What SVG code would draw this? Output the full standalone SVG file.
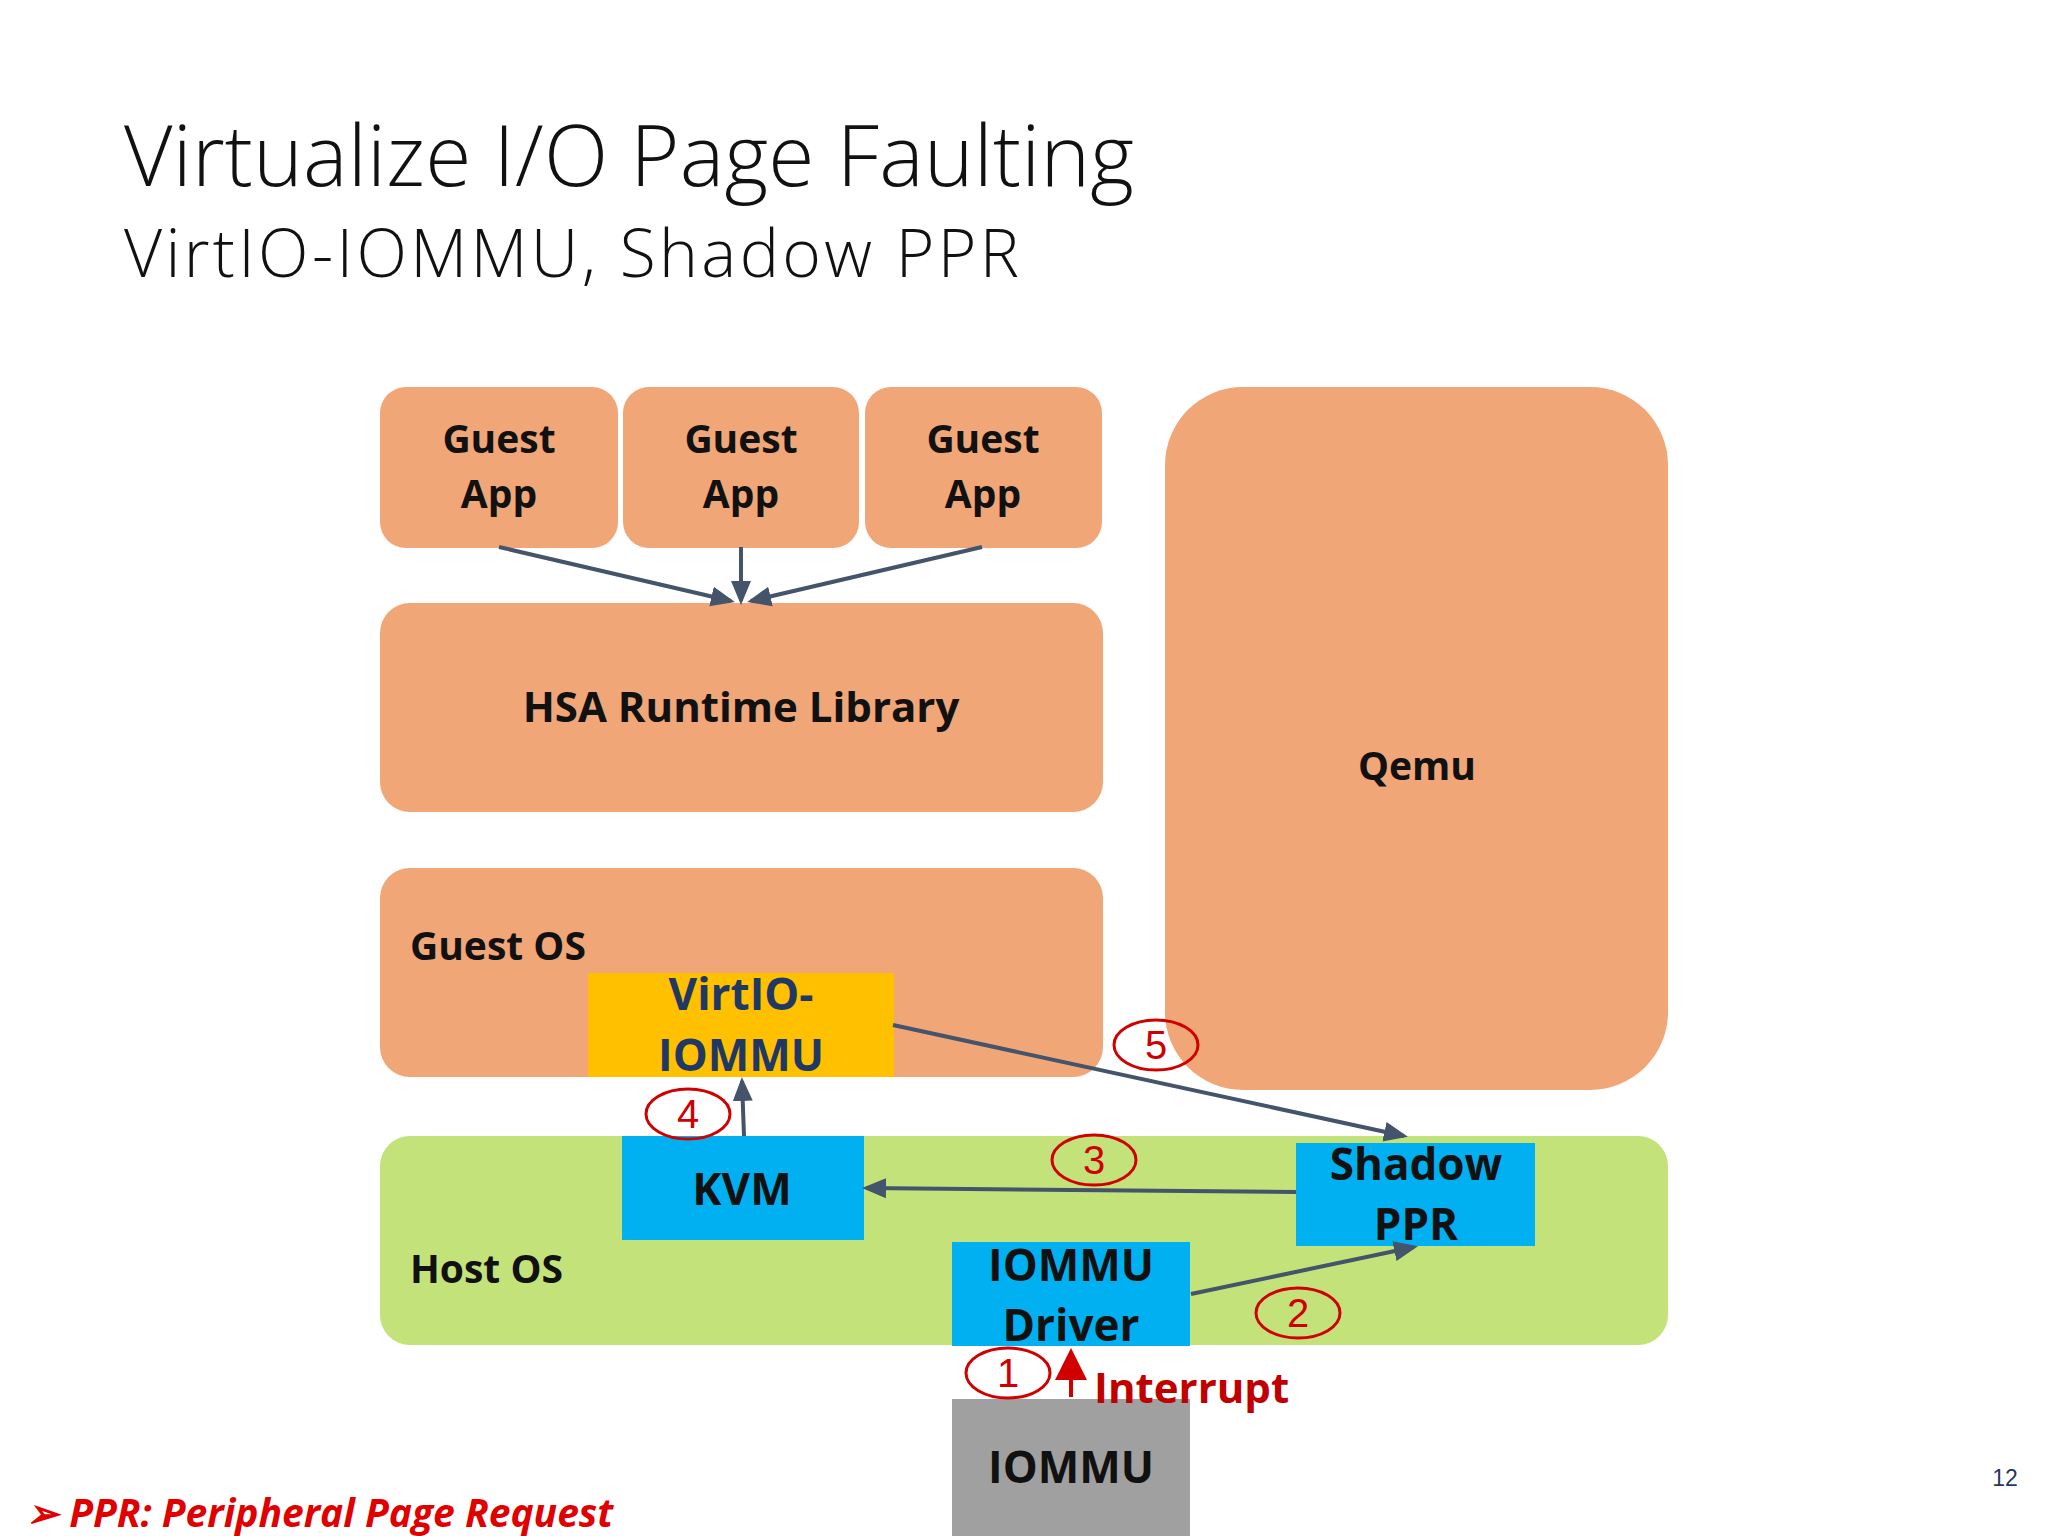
<svg xmlns="http://www.w3.org/2000/svg" width="2048" height="1536" viewBox="0 0 2048 1536">
<defs>
<style>
.o{fill:#f0a677}
.b{fill:#00b0f0}
.t{font-family:"Open Sans","Liberation Sans",sans-serif;font-weight:bold;fill:#111;text-anchor:middle}
.c{fill:none;stroke:#d00000;stroke-width:3}
.n{font-family:"Liberation Sans",sans-serif;font-size:40px;fill:#d00000;text-anchor:middle}
.e{stroke:#44546a;stroke-width:4;fill:none;marker-end:url(#a)}
</style>
<marker id="a" markerWidth="24" markerHeight="24" refX="20" refY="12" orient="auto" markerUnits="userSpaceOnUse" viewBox="0 0 24 24"><path d="M0,2L24,12L0,22z" fill="#44546a"/></marker>
<marker id="r" markerWidth="8" markerHeight="8" refX="6" refY="4" orient="auto" viewBox="0 0 8 8" markerUnits="strokeWidth"><path d="M0,0L8,4L0,8z" fill="#d00000"/></marker>
</defs>
<rect width="2048" height="1536" fill="#fff"/>
<text x="124" y="186" font-family="Open Sans,Liberation Sans,sans-serif" font-weight="300" font-size="84" textLength="1010" fill="#111">Virtualize I/O Page Faulting</text>
<text x="124" y="277" font-family="Open Sans,Liberation Sans,sans-serif" font-weight="300" font-size="66" textLength="895" fill="#111">VirtIO-IOMMU, Shadow PPR</text>
<g id="app1"><rect class="o" x="380" y="387" width="238" height="161" rx="26"/><text class="t" x="499" y="453" font-size="39">Guest</text><text class="t" x="499" y="508" font-size="39">App</text></g>
<g id="app2"><rect class="o" x="623" y="387" width="236" height="161" rx="26"/><text class="t" x="741" y="453" font-size="39">Guest</text><text class="t" x="741" y="508" font-size="39">App</text></g>
<g id="app3"><rect class="o" x="865" y="387" width="237" height="161" rx="26"/><text class="t" x="983" y="453" font-size="39">Guest</text><text class="t" x="983" y="508" font-size="39">App</text></g>
<g id="hsa"><rect class="o" x="380" y="603" width="723" height="209" rx="30"/><text class="t" x="741" y="722" font-size="42">HSA Runtime Library</text></g>
<g id="qemu"><rect class="o" x="1165" y="387" width="503" height="703" rx="78"/><text class="t" x="1417" y="780" font-size="39">Qemu</text></g>
<g id="guestos"><rect class="o" x="380" y="868" width="723" height="209" rx="30"/><text class="t" x="410" y="960" font-size="39" style="text-anchor:start">Guest OS</text></g>
<g id="hostos"><rect x="380" y="1136" width="1288" height="209" rx="30" fill="#c3e37a"/><text class="t" x="410" y="1283" font-size="39" style="text-anchor:start">Host OS</text></g>
<g id="virtio"><rect x="588" y="973" width="306" height="104" fill="#ffc000"/><text class="t" x="741" y="1010" font-size="44" style="fill:#1f3864">VirtIO-</text><text class="t" x="741" y="1071" font-size="44" style="fill:#1f3864">IOMMU</text></g>
<g id="kvm"><rect class="b" x="622" y="1136" width="242" height="104"/><text class="t" x="742" y="1205" font-size="44">KVM</text></g>
<g id="shadow"><rect class="b" x="1296" y="1143" width="239" height="103"/><text class="t" x="1416" y="1180" font-size="44">Shadow</text><text class="t" x="1416" y="1240" font-size="44">PPR</text></g>
<g id="driver"><rect class="b" x="952" y="1242" width="238" height="104"/><text class="t" x="1071" y="1281" font-size="44">IOMMU</text><text class="t" x="1071" y="1341" font-size="44">Driver</text></g>
<g id="iommu"><rect x="952" y="1399" width="238" height="137" fill="#a0a0a0"/><text class="t" x="1071" y="1483" font-size="44">IOMMU</text></g>
<g id="connectors">
<line class="e" x1="499" y1="547" x2="731" y2="601"/>
<line class="e" x1="741" y1="547" x2="741" y2="601"/>
<line class="e" x1="982" y1="547" x2="751" y2="601"/>
<line class="e" x1="893" y1="1025" x2="1404" y2="1136"/>
<line class="e" x1="1296" y1="1192" x2="866" y2="1188"/>
<line class="e" x1="744" y1="1136" x2="742" y2="1081"/>
<line class="e" x1="1191" y1="1294" x2="1414" y2="1247"/>
<line x1="1071" y1="1397" x2="1071" y2="1356" stroke="#d00000" stroke-width="4" marker-end="url(#r)"/>
</g>
<text x="1094" y="1403" font-family="Open Sans,Liberation Sans,sans-serif" font-weight="bold" font-size="42" fill="#c00000">Interrupt</text>
<g id="steps">
<ellipse class="c" cx="1008" cy="1373" rx="42" ry="25"/><text class="n" x="1008" y="1387">1</text>
<ellipse class="c" cx="1298" cy="1313" rx="42" ry="25"/><text class="n" x="1298" y="1327">2</text>
<ellipse class="c" cx="1094" cy="1160" rx="42" ry="25"/><text class="n" x="1094" y="1174">3</text>
<ellipse class="c" cx="688" cy="1114" rx="42" ry="25"/><text class="n" x="688" y="1128">4</text>
<ellipse class="c" cx="1156" cy="1045" rx="42" ry="25"/><text class="n" x="1156" y="1059">5</text>
</g>
<text x="26" y="1527" font-family="Open Sans,Liberation Sans,sans-serif" font-weight="bold" font-style="italic" font-size="39" fill="#e00000">➢ PPR: Peripheral Page Request</text>
<text x="2005" y="1486" font-family="Liberation Sans,sans-serif" font-size="23" fill="#1f3864" text-anchor="middle">12</text>
</svg>
